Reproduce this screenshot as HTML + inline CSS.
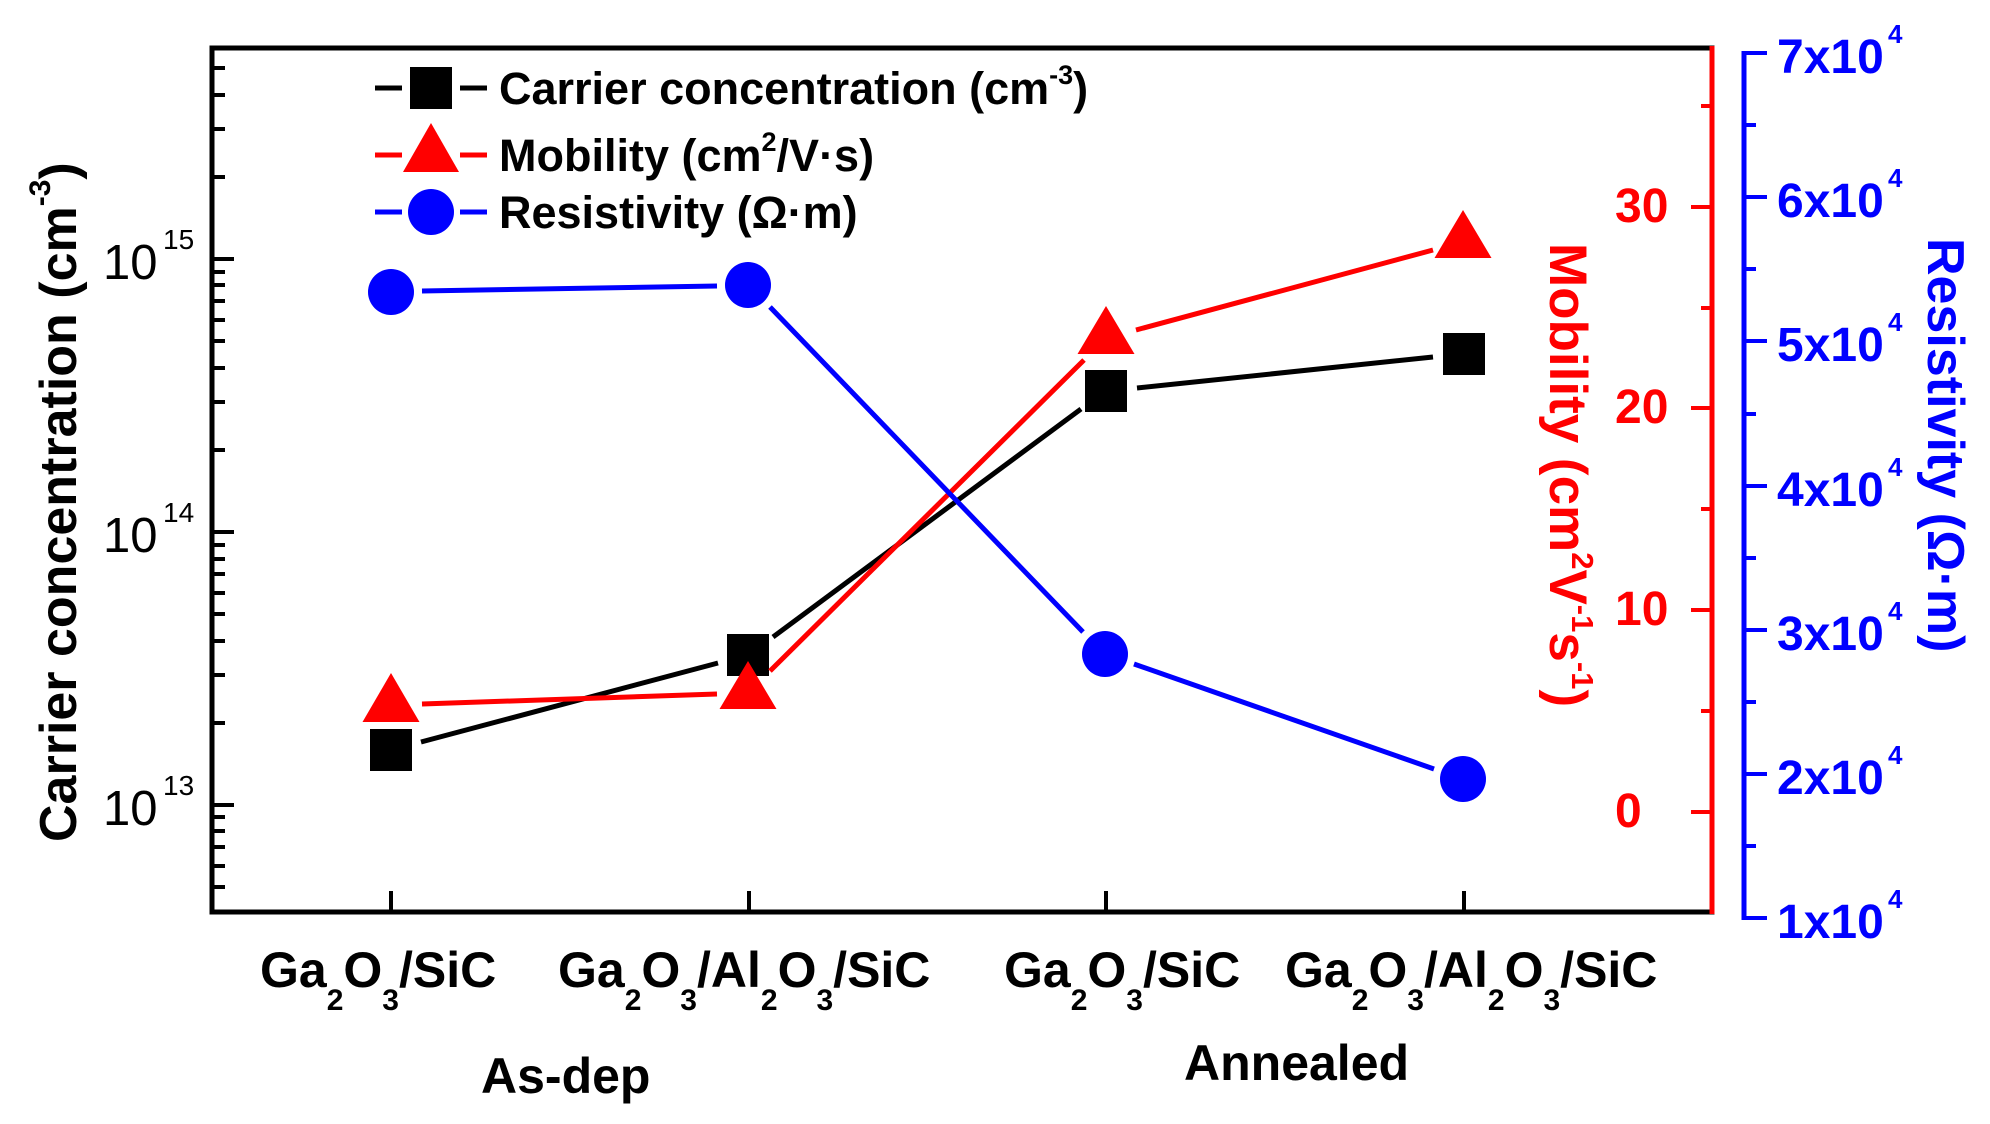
<!DOCTYPE html>
<html><head><meta charset="utf-8"><style>
html,body{margin:0;padding:0;background:#fff;}
svg{display:block;}
text{font-family:"Liberation Sans",Arial,sans-serif;}
</style></head><body>
<svg width="1990" height="1124" viewBox="0 0 1990 1124" xmlns="http://www.w3.org/2000/svg">
<rect width="1990" height="1124" fill="#fff"/>

<!-- Frame -->
<g stroke="#000" stroke-width="5" fill="none" stroke-linecap="square">
  <line x1="212" y1="48" x2="1712" y2="48"/>
  <line x1="212" y1="912" x2="1712" y2="912"/>
  <line x1="212" y1="48" x2="212" y2="912"/>
</g>
<line x1="1712" y1="46" x2="1712" y2="914" stroke="#f00" stroke-width="5"/>

<!-- Left axis ticks -->
<g stroke="#000" stroke-width="4">
  <line x1="212" y1="259" x2="234" y2="259"/>
  <line x1="212" y1="532" x2="234" y2="532"/>
  <line x1="212" y1="805" x2="234" y2="805"/>
  <line x1="212" y1="887" x2="225" y2="887"/>
  <line x1="212" y1="866" x2="225" y2="866"/>
  <line x1="212" y1="847" x2="225" y2="847"/>
  <line x1="212" y1="831" x2="225" y2="831"/>
  <line x1="212" y1="817" x2="225" y2="817"/>
  <line x1="212" y1="723" x2="225" y2="723"/>
  <line x1="212" y1="675" x2="225" y2="675"/>
  <line x1="212" y1="641" x2="225" y2="641"/>
  <line x1="212" y1="614" x2="225" y2="614"/>
  <line x1="212" y1="593" x2="225" y2="593"/>
  <line x1="212" y1="574" x2="225" y2="574"/>
  <line x1="212" y1="559" x2="225" y2="559"/>
  <line x1="212" y1="545" x2="225" y2="545"/>
  <line x1="212" y1="450" x2="225" y2="450"/>
  <line x1="212" y1="402" x2="225" y2="402"/>
  <line x1="212" y1="368" x2="225" y2="368"/>
  <line x1="212" y1="341" x2="225" y2="341"/>
  <line x1="212" y1="320" x2="225" y2="320"/>
  <line x1="212" y1="301" x2="225" y2="301"/>
  <line x1="212" y1="285" x2="225" y2="285"/>
  <line x1="212" y1="272" x2="225" y2="272"/>
  <line x1="212" y1="177" x2="225" y2="177"/>
  <line x1="212" y1="129" x2="225" y2="129"/>
  <line x1="212" y1="95" x2="225" y2="95"/>
  <line x1="212" y1="68" x2="225" y2="68"/>
  <!-- bottom ticks -->
  <line x1="391" y1="912" x2="391" y2="891"/>
  <line x1="749" y1="912" x2="749" y2="891"/>
  <line x1="1106" y1="912" x2="1106" y2="891"/>
  <line x1="1464" y1="912" x2="1464" y2="891"/>
</g>

<!-- Left tick labels -->
<g fill="#000">
  <text x="103" y="279" font-size="49">10</text>
  <text x="163" y="249" font-size="28">15</text>
  <text x="103" y="552" font-size="49">10</text>
  <text x="163" y="522" font-size="28">14</text>
  <text x="103" y="825" font-size="49">10</text>
  <text x="163" y="795" font-size="28">13</text>
</g>

<!-- Left title -->
<text transform="translate(76,842) rotate(-90)" font-size="52" font-weight="bold" fill="#000">Carrier concentration (cm<tspan font-size="30" dy="-26">-3</tspan><tspan dy="26">)</tspan></text>

<!-- Red axis ticks -->
<g stroke="#f00" stroke-width="4">
  <line x1="1712" y1="207" x2="1691" y2="207"/>
  <line x1="1712" y1="408" x2="1691" y2="408"/>
  <line x1="1712" y1="610" x2="1691" y2="610"/>
  <line x1="1712" y1="812" x2="1691" y2="812"/>
  <line x1="1712" y1="106" x2="1701" y2="106"/>
  <line x1="1712" y1="308" x2="1701" y2="308"/>
  <line x1="1712" y1="509" x2="1701" y2="509"/>
  <line x1="1712" y1="711" x2="1701" y2="711"/>
</g>
<g fill="#f00" font-weight="bold" font-size="48">
  <text x="1615" y="222">30</text>
  <text x="1615" y="423">20</text>
  <text x="1615" y="625">10</text>
  <text x="1615" y="827">0</text>
</g>
<text transform="translate(1550,243) rotate(90)" font-size="53" font-weight="bold" fill="#f00">Mobility (cm<tspan font-size="31" dy="-22">2</tspan><tspan dy="22">V</tspan><tspan font-size="31" dy="-22">-1</tspan><tspan dy="22">s</tspan><tspan font-size="31" dy="-22">-1</tspan><tspan dy="22">)</tspan></text>

<!-- Blue axis -->
<g stroke="#00f" stroke-width="5" fill="none">
  <line x1="1744" y1="51" x2="1744" y2="920"/>
</g>
<g stroke="#00f" stroke-width="4">
  <line x1="1744" y1="53" x2="1767" y2="53"/>
  <line x1="1744" y1="197" x2="1767" y2="197"/>
  <line x1="1744" y1="341" x2="1767" y2="341"/>
  <line x1="1744" y1="486" x2="1767" y2="486"/>
  <line x1="1744" y1="630" x2="1767" y2="630"/>
  <line x1="1744" y1="774" x2="1767" y2="774"/>
  <line x1="1744" y1="918" x2="1767" y2="918"/>
  <line x1="1744" y1="125" x2="1756" y2="125"/>
  <line x1="1744" y1="269" x2="1756" y2="269"/>
  <line x1="1744" y1="414" x2="1756" y2="414"/>
  <line x1="1744" y1="558" x2="1756" y2="558"/>
  <line x1="1744" y1="702" x2="1756" y2="702"/>
  <line x1="1744" y1="846" x2="1756" y2="846"/>
</g>
<g fill="#00f" font-weight="bold">
  <text x="1777" y="73" font-size="48">7x10</text><text x="1888" y="43" font-size="26">4</text>
  <text x="1777" y="217" font-size="48">6x10</text><text x="1888" y="187" font-size="26">4</text>
  <text x="1777" y="361" font-size="48">5x10</text><text x="1888" y="331" font-size="26">4</text>
  <text x="1777" y="506" font-size="48">4x10</text><text x="1888" y="476" font-size="26">4</text>
  <text x="1777" y="650" font-size="48">3x10</text><text x="1888" y="620" font-size="26">4</text>
  <text x="1777" y="794" font-size="48">2x10</text><text x="1888" y="764" font-size="26">4</text>
  <text x="1777" y="938" font-size="48">1x10</text><text x="1888" y="908" font-size="26">4</text>
</g>
<text transform="translate(1928,238) rotate(90)" font-size="52" font-weight="bold" fill="#00f">Resistivity (Ω·m)</text>

<!-- X labels -->
<g fill="#000" font-weight="bold" font-size="50">
  <text x="260" y="987">Ga<tspan font-size="30" dy="23">2</tspan><tspan dy="-23">O</tspan><tspan font-size="30" dy="23">3</tspan><tspan dy="-23">/SiC</tspan></text>
  <text x="558" y="987">Ga<tspan font-size="30" dy="23">2</tspan><tspan dy="-23">O</tspan><tspan font-size="30" dy="23">3</tspan><tspan dy="-23">/Al</tspan><tspan font-size="30" dy="23">2</tspan><tspan dy="-23">O</tspan><tspan font-size="30" dy="23">3</tspan><tspan dy="-23">/SiC</tspan></text>
  <text x="1004" y="987">Ga<tspan font-size="30" dy="23">2</tspan><tspan dy="-23">O</tspan><tspan font-size="30" dy="23">3</tspan><tspan dy="-23">/SiC</tspan></text>
  <text x="1285" y="987">Ga<tspan font-size="30" dy="23">2</tspan><tspan dy="-23">O</tspan><tspan font-size="30" dy="23">3</tspan><tspan dy="-23">/Al</tspan><tspan font-size="30" dy="23">2</tspan><tspan dy="-23">O</tspan><tspan font-size="30" dy="23">3</tspan><tspan dy="-23">/SiC</tspan></text>
  <text x="481" y="1093">As-dep</text>
  <text x="1184" y="1080">Annealed</text>
</g>

<!-- Black series -->
<g stroke="#000" stroke-width="5" stroke-linecap="butt">
  <line x1="421" y1="742" x2="718" y2="663"/>
  <line x1="773" y1="637" x2="1081" y2="409"/>
  <line x1="1137" y1="388" x2="1433" y2="357"/>
</g>
<g fill="#000">
  <rect x="370" y="729" width="42" height="42"/>
  <rect x="727" y="634" width="42" height="42"/>
  <rect x="1085" y="370" width="42" height="42"/>
  <rect x="1443" y="333" width="42" height="42"/>
</g>

<!-- Red series -->
<g stroke="#f00" stroke-width="5" stroke-linecap="butt">
  <line x1="422" y1="704" x2="717" y2="694"/>
  <line x1="770" y1="671" x2="1084" y2="360"/>
  <line x1="1136" y1="330" x2="1433" y2="250"/>
</g>
<g fill="#f00">
  <polygon points="391,673 419.5,722 362.5,722"/>
  <polygon points="748,661 776.5,709 719.5,709"/>
  <polygon points="1106,306 1134.5,354 1077.5,354"/>
  <polygon points="1463,210 1491.5,258 1434.5,258"/>
</g>

<!-- Blue series -->
<g stroke="#00f" stroke-width="5" stroke-linecap="butt">
  <line x1="422" y1="291" x2="717" y2="286"/>
  <line x1="770" y1="307" x2="1083" y2="632"/>
  <line x1="1134" y1="664" x2="1434" y2="769"/>
</g>
<g fill="#00f">
  <circle cx="391" cy="292" r="23"/>
  <circle cx="748" cy="285" r="23"/>
  <circle cx="1105" cy="654" r="23"/>
  <circle cx="1463" cy="779" r="23"/>
</g>

<!-- Legend -->
<g stroke-width="5">
  <line x1="375" y1="88" x2="402" y2="88" stroke="#000"/>
  <line x1="460" y1="88" x2="487" y2="88" stroke="#000"/>
  <line x1="375" y1="155" x2="402" y2="155" stroke="#f00"/>
  <line x1="460" y1="155" x2="487" y2="155" stroke="#f00"/>
  <line x1="375" y1="212" x2="402" y2="212" stroke="#00f"/>
  <line x1="460" y1="212" x2="487" y2="212" stroke="#00f"/>
</g>
<rect x="410" y="67" width="42" height="42" fill="#000"/>
<polygon points="431,123 459,172 403,172" fill="#f00"/>
<circle cx="431" cy="212" r="23" fill="#00f"/>
<g fill="#000" font-weight="bold" font-size="45">
  <text x="499" y="104">Carrier concentration (cm<tspan font-size="27" dy="-20">-3</tspan><tspan dy="20">)</tspan></text>
  <text x="499" y="171">Mobility (cm<tspan font-size="27" dy="-20">2</tspan><tspan dy="20">/V·s)</tspan></text>
  <text x="499" y="228">Resistivity (Ω·m)</text>
</g>
</svg>
</body></html>
